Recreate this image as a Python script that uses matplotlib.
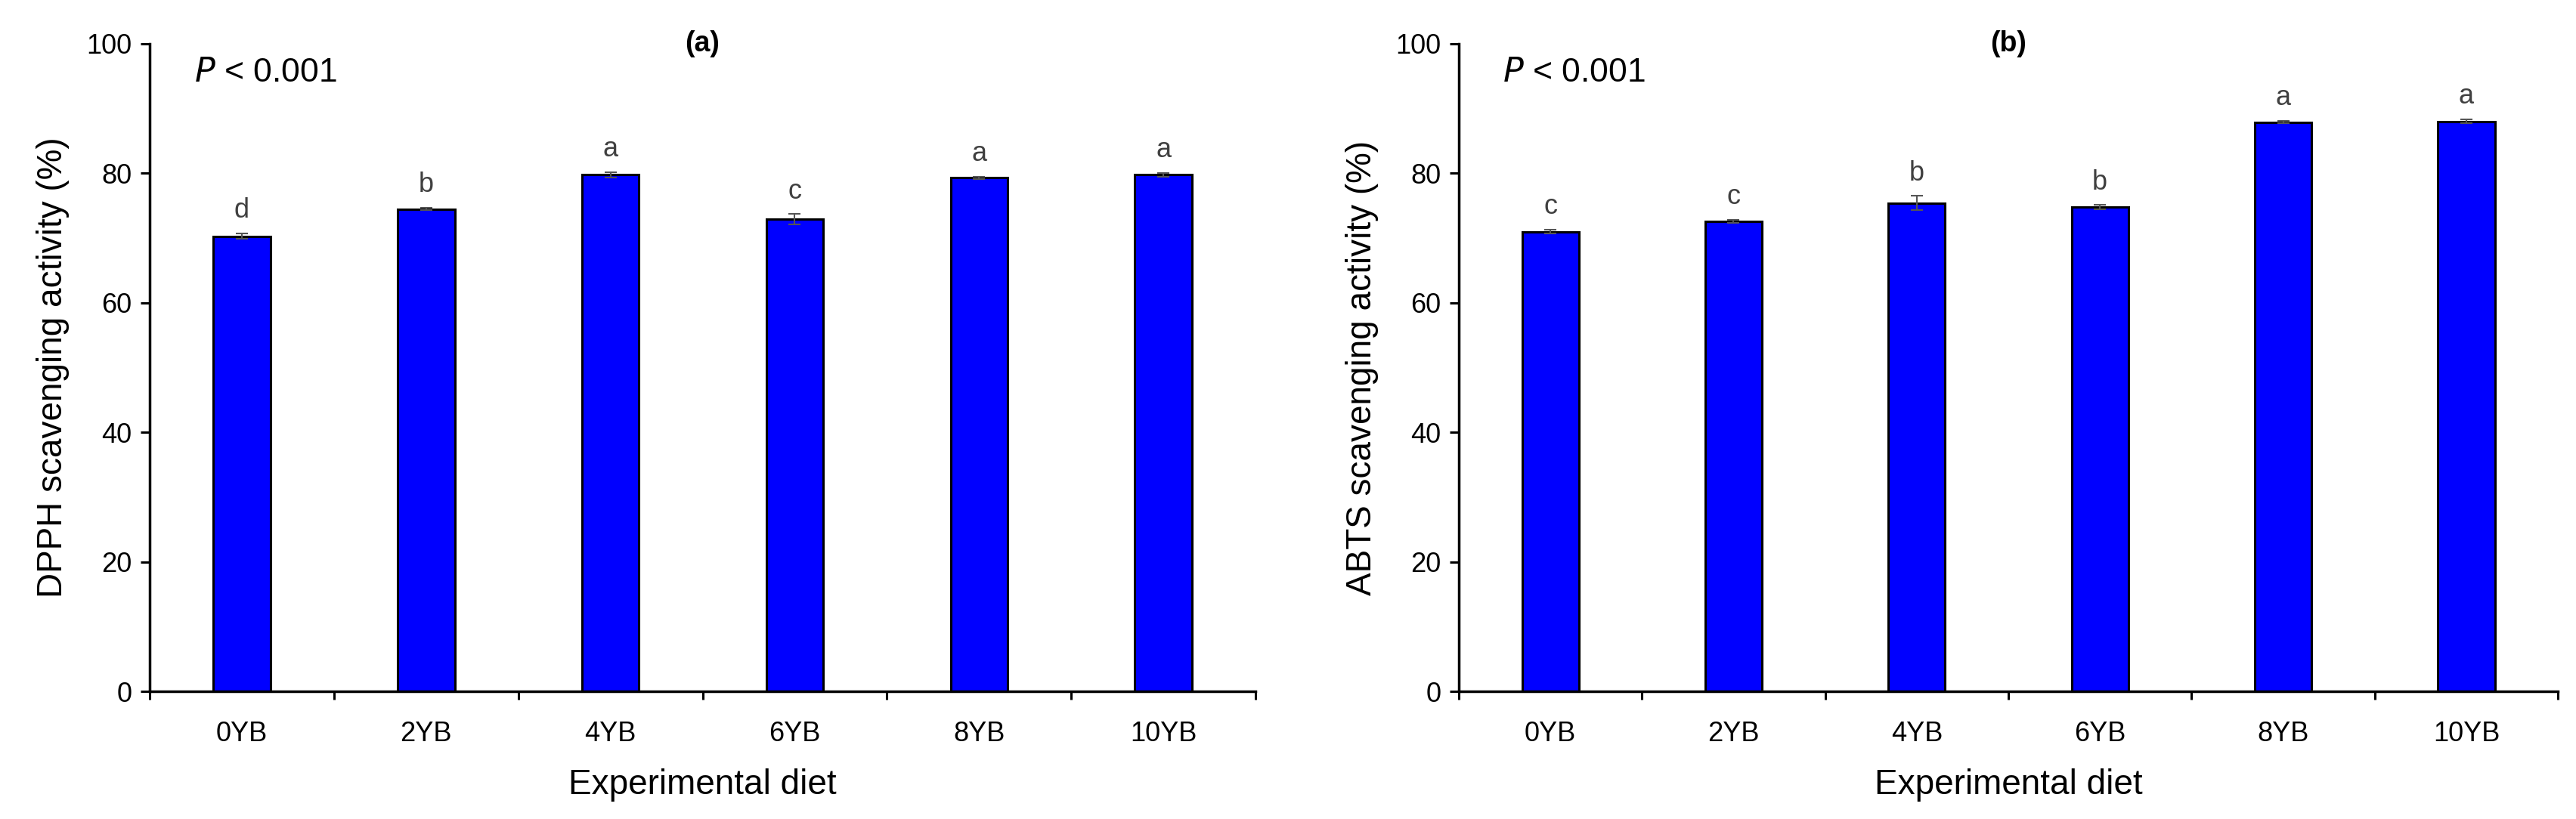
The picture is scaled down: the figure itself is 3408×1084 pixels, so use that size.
import numpy as np
import matplotlib
matplotlib.use('Agg')
import matplotlib.pyplot as plt

plt.rcParams['font.family'] = ['Liberation Sans', 'DejaVu Sans']

# Diets on the x axis
diets = ['0YB', '2YB', '4YB', '6YB', '8YB', '10YB']

# (a) DPPH scavenging activity (%)
dpph_mean = [70.3, 74.5, 79.8, 72.9, 79.3, 79.8]
dpph_err = [0.4, 0.2, 0.4, 0.8, 0.2, 0.3]
dpph_letters = ['d', 'b', 'a', 'c', 'a', 'a']

# (b) ABTS scavenging activity (%)
abts_mean = [71.0, 72.6, 75.4, 74.8, 87.9, 88.0]
abts_err = [0.3, 0.2, 1.1, 0.3, 0.2, 0.3]
abts_letters = ['c', 'c', 'b', 'b', 'a', 'a']

panels = [
    ('(a)', 'DPPH scavenging activity (%)', dpph_mean, dpph_err, dpph_letters),
    ('(b)', 'ABTS scavenging activity (%)', abts_mean, abts_err, abts_letters),
]

fig = plt.figure(figsize=(34.08, 10.84), dpi=100)
axes = [fig.add_axes([0.0581, 0.1559, 0.4293, 0.7906]),
        fig.add_axes([0.5663, 0.1559, 0.4267, 0.7906])]

x = np.arange(len(diets))
for ax, (tag, ylab, mean, err, letters) in zip(axes, panels):
    ax.bar(x, mean, width=0.31, color='#0000ff', edgecolor='black',
           linewidth=2.2, zorder=2)
    ax.errorbar(x, mean, yerr=err, fmt='none', ecolor='#555555',
                elinewidth=1.5, capsize=5.5, capthick=1.5, zorder=3)
    for xi, m, e, l in zip(x, mean, err, letters):
        ax.text(xi, m + e + 1.5, l, ha='center', va='bottom',
                fontsize=26, color='#404040')

    ax.set_xlim(-0.5, len(diets) - 0.5)
    ax.set_ylim(0, 100)
    ax.set_yticks([0, 20, 40, 60, 80, 100])
    ax.set_xticks(np.arange(-0.5, len(diets), 1.0))
    ax.set_xticklabels([])
    ax.set_xticks(x, minor=True)
    ax.set_xticklabels(diets, minor=True)
    ax.tick_params(axis='x', which='major', direction='out', length=8,
                   width=2.2, color='black')
    ax.tick_params(axis='x', which='minor', length=0, labelsize=26, pad=28)
    ax.tick_params(axis='y', direction='out', length=9, width=2.2,
                   labelsize=26, pad=8)

    for s in ['top', 'right']:
        ax.spines[s].set_visible(False)
    for s in ['left', 'bottom']:
        ax.spines[s].set_linewidth(2.5)

    ax.set_xlabel('Experimental diet', fontsize=33, labelpad=20)
    ax.set_ylabel(ylab, fontsize=33, labelpad=16)
    ax.text(0.5, 1.0, tag, transform=ax.transAxes, ha='center', va='center',
            fontsize=27, fontweight='bold')
    ax.text(0.04, 0.955, r'$\it{P}$ < 0.001', transform=ax.transAxes,
            ha='left', va='center', fontsize=32)

fig.savefig('out.png', dpi=100)
